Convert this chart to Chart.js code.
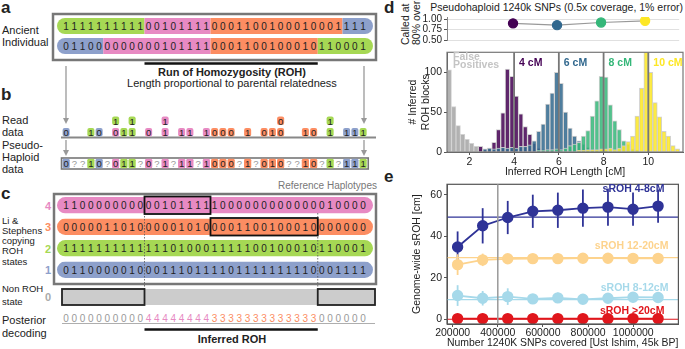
<!DOCTYPE html>
<html>
<head>
<meta charset="utf-8">
<script src="https://cdn.jsdelivr.net/npm/chart.js@4.4.1/dist/chart.umd.min.js"></script>
<style>
  html, body { margin: 0; padding: 0; background: #fff; }
  body { width: 685px; height: 349px; position: relative; overflow: hidden; font-family: "Liberation Sans", Arial, sans-serif; }
  svg, canvas { position: absolute; }
</style>
</head>
<body>
<svg id="scheme" width="685" height="349" style="left:0;top:0"></svg>
<canvas id="calledChart" width="305" height="48" style="left:380px;top:0"></canvas>
<canvas id="histChart" width="305" height="134" style="left:380px;top:44px"></canvas>
<canvas id="srohChart" width="305" height="173" style="left:380px;top:176px"></canvas>
<script>
// ---- panel a/b/c: haplotype strings (index = SNP position) ----
const ancientHap1 = [['G', '1111111111'], ['P', '00101111'], ['O', '0001100100010001'], ['B', '111']];
const ancientHap2 = [['B', '01100'], ['P', '0000000101111'], ['O', '0001100100010'], ['G', '110001']];
const readsLower = '0..10.011.0.1.11.1000.1.010..10.1.111';
const readsLowerCol = 'B..GB.PGG.P.P.PP.POOO.O.OOO..OO.G.BBG';
const readsUpper = '......1.1...1.............0.....1....';
const readsUpperCol = '......G.G...P.............O.....G....';
const refHaps = [
  { id: '4', col: 'P', seq: '1100000000001011111000000000000010000' },
  { id: '3', col: 'O', seq: '0000011010000010100001100100010000000' },
  { id: '2', col: 'G', seq: '1111111111111010001111100100010110001' },
  { id: '1', col: 'B', seq: '0110000010001110111101111111110001111' }
];
const copyBoxes = [{ row: 0, from: 10, to: 18 }, { row: 1, from: 18, to: 31 }];
const posterior = '0000000000444444443333333333333000000';

// ---- panel d ----
const simLengths = [4, 6, 8, 10];
const calledFrac = [0.905, 0.862, 0.926, 0.968];
const lengthColors = ['#440154', '#31688e', '#35b779', '#fde725'];
const binCenters = [1.1, 1.3, 1.5, 1.7, 1.9, 2.1, 2.3, 2.5, 2.7, 2.9, 3.1, 3.3, 3.5, 3.7, 3.9, 4.1, 4.3, 4.5, 4.7, 4.9,
  5.1, 5.3, 5.5, 5.7, 5.9, 6.1, 6.3, 6.5, 6.7, 6.9, 7.1, 7.3, 7.5, 7.7, 7.9, 8.1, 8.3, 8.5, 8.7, 8.9,
  9.1, 9.3, 9.5, 9.7, 9.9, 10.1, 10.3, 10.5, 10.7, 10.9, 11.1, 11.3];
const falsePos = [103, 57, 33, 22, 16, 11, 7, 4, 3, 3, 2, 1, 1, 1, 0, 0, 0, 0, 0, 0,
  0, 0, 0, 0, 0, 0, 0, 0, 0, 0, 0, 0, 0, 0, 0, 0, 0, 0, 0, 0, 0, 0, 0, 0, 0, 0, 0, 0, 0, 0, 0, 0];
const roh4 = [0, 0, 0, 0, 0, 0, 0, 7, 3, 5, 12, 28, 49, 104, 95, 70, 48, 32, 22, 11,
  5, 3, 2, 1, 0, 0, 0, 0, 0, 0, 0, 0, 0, 0, 0, 0, 0, 0, 0, 0, 0, 0, 0, 0, 0, 0, 0, 0, 0, 0, 0, 0];
const roh6 = [0, 0, 0, 0, 0, 0, 0, 0, 4, 5, 4, 5, 6, 5, 6, 5, 7, 7, 9, 14,
  26, 35, 60, 74, 100, 86, 50, 30, 20, 14, 10, 6, 4, 3, 2, 2, 0, 0, 0, 0, 0, 0, 0, 0, 0, 0, 0, 0, 0, 0, 0, 0];
const roh8 = [0, 0, 0, 0, 0, 0, 0, 0, 0, 0, 0, 0, 0, 0, 0, 0, 0, 0, 0, 0,
  2, 2, 3, 3, 4, 3, 5, 8, 10, 12, 20, 27, 45, 64, 95, 94, 59, 39, 28, 14, 10, 4, 2, 0, 0, 0, 0, 0, 0, 0, 0, 0];
const roh10 = [0, 0, 0, 0, 0, 0, 0, 0, 0, 0, 0, 0, 0, 0, 0, 0, 0, 0, 0, 0,
  0, 0, 0, 0, 0, 0, 0, 0, 0, 2, 2, 3, 3, 3, 4, 4, 5, 3, 5, 8, 13, 20, 45, 80, 135, 100, 62, 44, 26, 20, 8, 4];

// ---- panel e ----
const snpCounts = [222000, 333000, 444000, 555000, 666000, 777000, 888000, 999000, 1110000];
const sroh4to8 = [34.8, 45, 49, 52, 52.5, 53.5, 54, 53, 54.5];
const sroh4to8Err = [7.5, 8.5, 8, 8, 8.5, 9, 9, 8, 8];
const sroh12to20 = [26.3, 28.6, 29.1, 29.2, 29.2, 29.4, 29.4, 29.3, 29.3];
const sroh12to20Err = [5, 3, 1.5, 1.5, 1.5, 1.5, 1.5, 2, 2];
const sroh8to12 = [11.4, 10.1, 10.9, 9.8, 10.3, 9.6, 10.1, 10.6, 10.5];
const sroh8to12Err = [5, 3.5, 4, 2, 2.5, 2, 2, 2.5, 2.5];
const sroh20 = [0.3, 0.3, 0.3, 0.3, 0.3, 0.3, 0.3, 0.3, 0.3];
const sroh20Err = [0, 0, 0, 0, 0, 0, 0, 0, 0];
const trueSroh = [49.2, 29.7, 9.4, 0];
const srohNames = ['sROH 4-8cM', 'sROH 12-20cM', 'sROH 8-12cM', 'sROH >20cM'];
const srohColors = ['#2f3397', '#fdd38d', '#a6d9ea', '#e0161c'];

// ================= scheme (a, b, c) =================
const SET2 = { G: '#a6d854', P: '#e78ac3', O: '#fc8d62', B: '#8da0cb' };
const G0 = 62, P = 8.25;
const cellX = i => G0 + P * i;
const cellC = i => G0 + P * (i + 0.5);
const svg = document.getElementById('scheme');
const NS = 'http://www.w3.org/2000/svg';
let clipN = 0;

function el(tag, attrs, text, parent) {
  const e = document.createElementNS(NS, tag);
  for (const k in attrs) e.setAttribute(k, attrs[k]);
  if (text != null) e.textContent = text;
  (parent || svg).appendChild(e);
  return e;
}
function txt(x, y, s, o = {}) {
  const a = {
    x, y, 'font-size': o.size || 11, 'font-weight': o.bold ? 'bold' : 'normal',
    fill: o.color || '#222', 'text-anchor': o.anchor || 'start', 'dominant-baseline': 'central'
  };
  if (o.rotate) a.transform = `rotate(${o.rotate} ${x} ${y})`;
  return el('text', a, s);
}
function lines(x, y, arr, o) { arr.forEach((s, i) => txt(x, y + i * (o.lh || 11.5), s, o)); }
function line(x1, y1, x2, y2, stroke, w, extra = {}) {
  return el('line', Object.assign({ x1, y1, x2, y2, stroke, 'stroke-width': w }, extra));
}
function digits(seq, y, o = {}) {
  [...seq].forEach((ch, i) => txt(cellC(i), y, ch, { anchor: 'middle', size: o.size || 10, color: o.color ? o.color(i) : '#222' }));
}
function pill(y, h, segs, x0, x1) {
  const id = 'clip' + (clipN++);
  const cp = el('clipPath', { id });
  el('rect', { x: x0, y, width: x1 - x0, height: h, rx: h / 2 }, null, cp);
  let idx = 0;
  segs.forEach(([c, s], k) => {
    const a = k === 0 ? x0 : cellX(idx);
    const b = k === segs.length - 1 ? x1 : cellX(idx + s.length);
    el('rect', { x: a, y, width: b - a, height: h, fill: SET2[c], 'clip-path': `url(#${id})` });
    idx += s.length;
  });
  digits(segs.map(s => s[1]).join(''), y + h / 2 + 0.5);
}
function arrow(x, y1, y2) {
  line(x, y1, x, y2 - 5, '#999', 1.3);
  el('path', { d: `M${x - 3},${y2 - 6} L${x + 3},${y2 - 6} L${x},${y2} Z`, fill: '#999' });
}

// panel letters
txt(1, 7, 'a', { size: 17, bold: true });
txt(1, 94, 'b', { size: 17, bold: true });
txt(1, 193, 'c', { size: 17, bold: true });
txt(384, 7, 'd', { size: 17, bold: true });
txt(384, 176, 'e', { size: 17, bold: true });

// --- a ---
lines(2, 30, ['Ancient', 'Individual'], { size: 11 });
el('rect', { x: 53, y: 14, width: 323, height: 46, fill: 'none', stroke: '#777', 'stroke-width': 2.5 });
pill(18, 16, ancientHap1, 57, 373);
pill(38, 16, ancientHap2, 57, 373);
line(cellX(10), 63.5, cellX(31), 63.5, '#111', 2.5);
txt(232, 72, 'Run of Homozygosity (ROH)', { size: 11, bold: true, anchor: 'middle' });
txt(232, 82.5, 'Length proportional to parental relatedness', { size: 11, anchor: 'middle' });

// --- b ---
arrow(66, 66, 124);
arrow(364, 66, 124);
arrow(66, 140, 156);
arrow(364, 140, 156);
lines(2, 120, ['Read', 'data'], { size: 11, lh: 12 });
lines(2, 145, ['Pseudo-', 'Haploid', 'data'], { size: 11, lh: 12 });
line(61, 137.5, 376, 137.5, '#888', 2);
function chip(i, y, ch, col) {
  el('rect', { x: cellX(i) + 0.6, y, width: P - 1.2, height: 8.5, rx: 2, fill: SET2[col] });
  txt(cellC(i), y + 4.6, ch, { anchor: 'middle', size: 9.5 });
}
[...readsLower].forEach((ch, i) => { if (ch !== '.') chip(i, 128, ch, readsLowerCol[i]); });
[...readsUpper].forEach((ch, i) => { if (ch !== '.') chip(i, 116.5, ch, readsUpperCol[i]); });
el('rect', { x: 61.5, y: 158, width: cellX(37) - 61.5 + 1, height: 11, fill: '#fff', stroke: '#777', 'stroke-width': 1.6 });
[...readsLower].forEach((ch, i) => {
  if (ch !== '.') {
    el('rect', { x: cellX(i) + 0.5, y: 158.8, width: P - 1, height: 9.4, rx: 1.5, fill: SET2[readsLowerCol[i]] });
    txt(cellC(i), 163.8, ch, { anchor: 'middle', size: 9.5 });
  } else {
    txt(cellC(i), 163.8, '?', { anchor: 'middle', size: 9.5, color: '#999' });
  }
});

// --- c ---
txt(377, 185, 'Reference Haplotypes', { size: 10, color: '#777', anchor: 'end' });
lines(2, 220, ['Li &', 'Stephens', 'copying', 'ROH', 'states'], { size: 9.5, lh: 10.3 });
el('rect', { x: 54, y: 194, width: 322, height: 90, fill: 'none', stroke: '#777', 'stroke-width': 2.5 });
const rowY = [197, 218.5, 240, 261.5];
refHaps.forEach((h, r) => {
  pill(rowY[r], 16.5, [[h.col, h.seq]], 57, 373);
  txt(48, rowY[r] + 8.5, h.id, { size: 11, color: SET2[h.col], anchor: 'middle', bold: true });
});
[cellX(10), cellX(31)].forEach(x => line(x, 213, x, 289, '#555', 0.8, { 'stroke-dasharray': '1.5,1.5' }));
copyBoxes.forEach(b => el('rect', {
  x: cellX(b.from), y: rowY[b.row] - 0.5, width: cellX(b.to) - cellX(b.from), height: 17.5,
  fill: 'none', stroke: '#111', 'stroke-width': 1.8
}));
lines(2, 288, ['Non ROH', 'state'], { size: 9.5, lh: 13 });
txt(48, 297, '0', { size: 11, color: '#aaa', anchor: 'middle', bold: true });
el('rect', { x: 62, y: 289, width: 313, height: 16, fill: '#cccccc' });
el('rect', { x: 62, y: 289, width: cellX(10) - 62, height: 16, fill: '#cccccc', stroke: '#222', 'stroke-width': 1.8 });
el('rect', { x: cellX(31), y: 289, width: 375 - cellX(31), height: 16, fill: '#cccccc', stroke: '#222', 'stroke-width': 1.8 });
lines(2, 320, ['Posterior', 'decoding'], { size: 11, lh: 12.5 });
digits(posterior, 318, {
  size: 10,
  color: i => posterior[i] === '4' ? SET2.P : posterior[i] === '3' ? SET2.O : '#999'
});
line(62, 323.5, 375, 323.5, '#999', 0.8);
line(cellX(10), 329.5, cellX(31), 329.5, '#111', 2.5);
txt(232, 339, 'Inferred ROH', { size: 11, bold: true, anchor: 'middle' });

// title and y label of d (top)
txt(683, 7, 'Pseudohaploid 1240k SNPs (0.5x coverage, 1% error)', { size: 10.5, anchor: 'end' });
txt(405, 45, 'Called at', { size: 10.5, rotate: -90 });
txt(416, 45, '80% overlap', { size: 10.5, rotate: -90 });

// ================= charts (d, e) =================
Chart.defaults.font.family = '"Liberation Sans", Arial, sans-serif';
Chart.defaults.font.size = 10.5;
Chart.defaults.color = '#222';
Chart.defaults.devicePixelRatio = 1;
Chart.defaults.animation = false;
Chart.defaults.plugins.legend.display = false;
Chart.defaults.plugins.tooltip.enabled = false;

const AXIS_W = 67;
const fixW = w => scale => { scale.width = w; };
const fixH = h => scale => { scale.height = h; };
const setTicks = vals => scale => { scale.ticks = vals.map(v => ({ value: v })); };

const framePlugin = {
  id: 'frame',
  afterDatasetsDraw(chart, args, opts) {
    if (!opts.show) return;
    const { ctx, chartArea: a } = chart;
    ctx.save();
    ctx.strokeStyle = opts.color || '#555';
    ctx.lineWidth = opts.width || 1.2;
    ctx.strokeRect(a.left, a.top, a.right - a.left, a.bottom - a.top);
    ctx.restore();
  }
};
const vlinePlugin = {
  id: 'vlines',
  afterDatasetsDraw(chart, args, opts) {
    if (!opts.values) return;
    const { ctx, chartArea: a, scales: { x } } = chart;
    ctx.save();
    ctx.strokeStyle = opts.color;
    ctx.lineWidth = opts.width;
    opts.values.forEach(v => {
      const px = x.getPixelForValue(v);
      ctx.beginPath(); ctx.moveTo(px, a.top); ctx.lineTo(px, a.bottom); ctx.stroke();
    });
    ctx.restore();
  }
};
const textPlugin = {
  id: 'notes',
  afterDraw(chart, args, opts) {
    if (!opts.items) return;
    const { ctx, scales: { x, y } } = chart;
    ctx.save();
    ctx.textBaseline = 'middle';
    opts.items.forEach(it => {
      ctx.font = `bold ${it.size || 10.5}px "Liberation Sans", Arial, sans-serif`;
      ctx.fillStyle = it.color;
      ctx.textAlign = it.align || 'left';
      const px = x.getPixelForValue(it.x) + (it.dx || 0);
      const py = y.getPixelForValue(it.y);
      ctx.fillText(it.text, px, py);
    });
    ctx.restore();
  }
};
const errorBarPlugin = {
  id: 'errorBars',
  beforeDatasetsDraw(chart) {
    const { ctx, scales: { x, y } } = chart;
    chart.data.datasets.forEach(ds => {
      if (!ds.errors) return;
      ctx.save();
      ctx.strokeStyle = ds.borderColor;
      ctx.lineWidth = 1.8;
      ds.data.forEach((p, i) => {
        const e = ds.errors[i];
        if (!e) return;
        const px = x.getPixelForValue(p.x);
        ctx.beginPath();
        ctx.moveTo(px, y.getPixelForValue(p.y - e));
        ctx.lineTo(px, y.getPixelForValue(p.y + e));
        ctx.stroke();
      });
      ctx.restore();
    });
  }
};
Chart.register(framePlugin, vlinePlugin, textPlugin, errorBarPlugin);

// ---- d (top): fraction called ----
new Chart(document.getElementById('calledChart'), {
  type: 'line',
  data: {
    datasets: [{
      data: simLengths.map((x, i) => ({ x, y: calledFrac[i] })),
      borderColor: '#999', borderWidth: 1.2,
      pointRadius: 4.6, pointBackgroundColor: lengthColors, pointBorderColor: lengthColors
    }]
  },
  options: {
    responsive: false,
    layout: { padding: { top: 17, bottom: 5, right: 2, left: 0 } },
    scales: {
      x: { type: 'linear', min: 1, max: 11.55, display: false },
      y: {
        min: 0.5, max: 1.06,
        afterFit: fixW(AXIS_W),
        afterBuildTicks: setTicks([0.5, 0.75, 1.0]),
        ticks: { callback: v => v.toFixed(2), padding: 2, autoSkip: false, font: { size: 10 } },
        grid: { color: '#e0e0e0', tickLength: 3, tickColor: '#555' },
        border: { color: '#888' }
      }
    }
  }
});

// ---- d (bottom): histogram ----
const histSets = [
  { data: falsePos, fill: 'rgba(170,170,170,0.9)', order: 5 },
  { data: roh4, fill: 'rgba(68,1,84,0.85)', order: 4 },
  { data: roh6, fill: 'rgba(49,104,142,0.85)', order: 3 },
  { data: roh8, fill: 'rgba(53,183,121,0.85)', order: 2 },
  { data: roh10, fill: 'rgba(253,231,37,0.85)', order: 1 }
];
new Chart(document.getElementById('histChart'), {
  type: 'bar',
  data: {
    datasets: histSets.map(s => ({
      data: binCenters.map((x, i) => ({ x, y: s.data[i] })).filter(p => p.y > 0),
      backgroundColor: s.fill, borderColor: 'rgba(205,205,205,0.9)', borderWidth: 1,
      barPercentage: 1, categoryPercentage: 1, grouped: false, order: s.order
    }))
  },
  options: {
    responsive: false,
    layout: { padding: { top: 3, right: 2, left: 0, bottom: 0 } },
    scales: {
      x: {
        type: 'linear', min: 1, max: 11.55, offset: false,
        afterFit: fixH(26),
        afterBuildTicks: setTicks([2, 4, 6, 8, 10]),
        ticks: { padding: 1, font: { size: 10.5 } },
        grid: { drawOnChartArea: false, tickLength: 3, tickColor: '#555', offset: false },
        border: { color: '#555' },
        title: { display: true, text: 'Inferred ROH Length [cM]', font: { size: 10.5 }, padding: { top: 0, bottom: 0 } }
      },
      y: {
        min: 0, max: 125,
        afterFit: fixW(AXIS_W),
        afterBuildTicks: setTicks([0, 50, 100]),
        ticks: { padding: 2, font: { size: 10.5 } },
        grid: { drawOnChartArea: false, tickLength: 3, tickColor: '#555' },
        border: { color: '#555' },
        title: { display: true, text: ['# Inferred', 'ROH blocks'], font: { size: 10.5 }, padding: { top: 27, bottom: 0 } }
      }
    },
    plugins: {
      frame: { show: true, color: '#777', width: 1.2 },
      vlines: { values: simLengths, color: '#777', width: 1.8 },
      notes: {
        items: simLengths.map((v, i) => ({ x: v, y: 111, dx: 5, text: v + ' cM', color: lengthColors[i] }))
          .concat([
            { x: 1, y: 119, dx: 6, text: 'False', color: '#c4c4c4' },
            { x: 1, y: 108.5, dx: 6, text: 'Positives', color: '#c4c4c4' }
          ])
      }
    }
  }
});

// ---- e: genome-wide sROH vs coverage ----
const xMin = 175000, xMax = 1200000;
const srohSeries = [sroh4to8, sroh12to20, sroh8to12, sroh20];
const srohErrs = [sroh4to8Err, sroh12to20Err, sroh8to12Err, sroh20Err];
new Chart(document.getElementById('srohChart'), {
  type: 'line',
  data: {
    datasets: trueSroh.map((v, k) => ({
      data: [{ x: xMin, y: v }, { x: xMax, y: v }],
      borderColor: srohColors[k], borderWidth: 1.2, pointRadius: 0, order: 10
    })).concat(srohSeries.map((vals, k) => ({
      data: snpCounts.map((x, i) => ({ x, y: vals[i] })),
      errors: srohErrs[k],
      borderColor: srohColors[k], backgroundColor: srohColors[k], borderWidth: 1.8,
      pointRadius: 4.8, pointBackgroundColor: srohColors[k], pointBorderColor: srohColors[k], order: 1
    })))
  },
  options: {
    responsive: false,
    layout: { padding: { top: 5, right: 2, left: 0, bottom: 0 } },
    scales: {
      x: {
        type: 'linear', min: xMin, max: xMax,
        afterFit: fixH(25),
        afterBuildTicks: setTicks([200000, 400000, 600000, 800000, 1000000]),
        ticks: { padding: 0, autoSkip: false, maxRotation: 0, font: { size: 10.5 }, callback: v => String(v) },
        grid: { drawOnChartArea: false, tickLength: 3, tickColor: '#555' },
        border: { color: '#555' },
        title: { display: true, text: 'Number 1240K SNPs covered [Ust Ishim, 45k BP]', font: { size: 10.5 }, padding: { top: 0, bottom: 0 } }
      },
      y: {
        min: -2.3, max: 65,
        afterFit: fixW(AXIS_W),
        afterBuildTicks: setTicks([0, 20, 40, 60]),
        ticks: { padding: 2, font: { size: 10.5 } },
        grid: { drawOnChartArea: false, tickLength: 3, tickColor: '#555' },
        border: { color: '#555' },
        title: { display: true, text: 'Genome-wide sROH [cm]', font: { size: 10.5 }, padding: { top: 31, bottom: 0 } }
      }
    },
    plugins: {
      frame: { show: true, color: '#555', width: 1.2 },
      vlines: { values: [400000], color: '#999', width: 1.5 },
      notes: {
        items: [
          { x: xMax, y: 62.5, dx: -14, text: srohNames[0], color: srohColors[0], align: 'right' },
          { x: xMax, y: 35, dx: -10, text: srohNames[1], color: srohColors[1], align: 'right' },
          { x: xMax, y: 15, dx: -10, text: srohNames[2], color: srohColors[2], align: 'right' },
          { x: xMax, y: 4, dx: -14, text: srohNames[3], color: srohColors[3], align: 'right' }
        ]
      }
    }
  }
});
</script>
</body>
</html>
